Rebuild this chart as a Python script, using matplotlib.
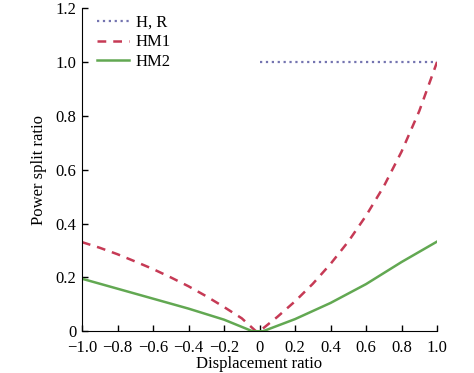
import numpy as np
import matplotlib
matplotlib.use('Agg')
import matplotlib.pyplot as plt

# values
hr_x = [0.0, 1.0]
hr_y = [1.0, 1.0]

hm1_x = [-1.0, -0.9, -0.8, -0.7, -0.6, -0.5, -0.4, -0.3, -0.2, -0.1, -0.02,
         0.0, 0.1, 0.2, 0.3, 0.4, 0.5, 0.6, 0.7, 0.8, 0.9, 1.0]
hm1_y = [0.331, 0.31, 0.286, 0.259, 0.231, 0.2, 0.167, 0.13, 0.09, 0.048, 0.0,
         0.0, 0.053, 0.111, 0.176, 0.25, 0.333, 0.429, 0.538, 0.667, 0.818, 1.0]

hm2_x = [-1.0, -0.8, -0.6, -0.4, -0.2, -0.04, 0.02, 0.2, 0.4, 0.6, 0.8, 1.0]
hm2_y = [0.195, 0.158, 0.121, 0.084, 0.043, 0.0, 0.0, 0.045, 0.105, 0.175, 0.257, 0.333]

xticks = [-1.0, -0.8, -0.6, -0.4, -0.2, 0, 0.2, 0.4, 0.6, 0.8, 1.0]
xticklabels = ['\u22121.0', '\u22120.8', '\u22120.6', '\u22120.4', '\u22120.2', '0',
               '0.2', '0.4', '0.6', '0.8', '1.0']
yticks = [0, 0.2, 0.4, 0.6, 0.8, 1.0, 1.2]
yticklabels = ['0', '0.2', '0.4', '0.6', '0.8', '1.0', '1.2']

plt.rcParams['font.family'] = ['Liberation Serif', 'DejaVu Serif']
plt.rcParams['font.size'] = 12

fig = plt.figure(figsize=(4.74, 3.73), dpi=100)
ax = fig.add_axes([0.173, 0.112, 0.749, 0.866])

ax.plot(hr_x, hr_y, ':', color='#7474b0', lw=1.6, label='H, R')
ax.plot(hm1_x, hm1_y, '--', color='#c63a55', lw=1.8, dashes=(3.5, 2.8), label='HM1')
ax.plot(hm2_x, hm2_y, '-', color='#62a852', lw=1.8, label='HM2')

ax.set_xlim(-1.0, 1.0)
ax.set_ylim(0, 1.2)
ax.set_xticks(xticks)
ax.set_xticklabels(xticklabels)
ax.set_yticks(yticks)
ax.set_yticklabels(yticklabels)
ax.tick_params(direction='in', length=4, width=1)
ax.tick_params(axis='x', pad=6.5)
ax.tick_params(axis='y', pad=4)

ax.spines['top'].set_visible(False)
ax.spines['right'].set_visible(False)

ax.set_xlabel('Displacement ratio', labelpad=0)
ax.set_ylabel('Power split ratio', labelpad=6)

ax.legend(loc='upper left', bbox_to_anchor=(0.0, 1.025), frameon=False,
          handlelength=1.9, handletextpad=0.42, labelspacing=0.2)

fig.savefig('out.png', dpi=100)
